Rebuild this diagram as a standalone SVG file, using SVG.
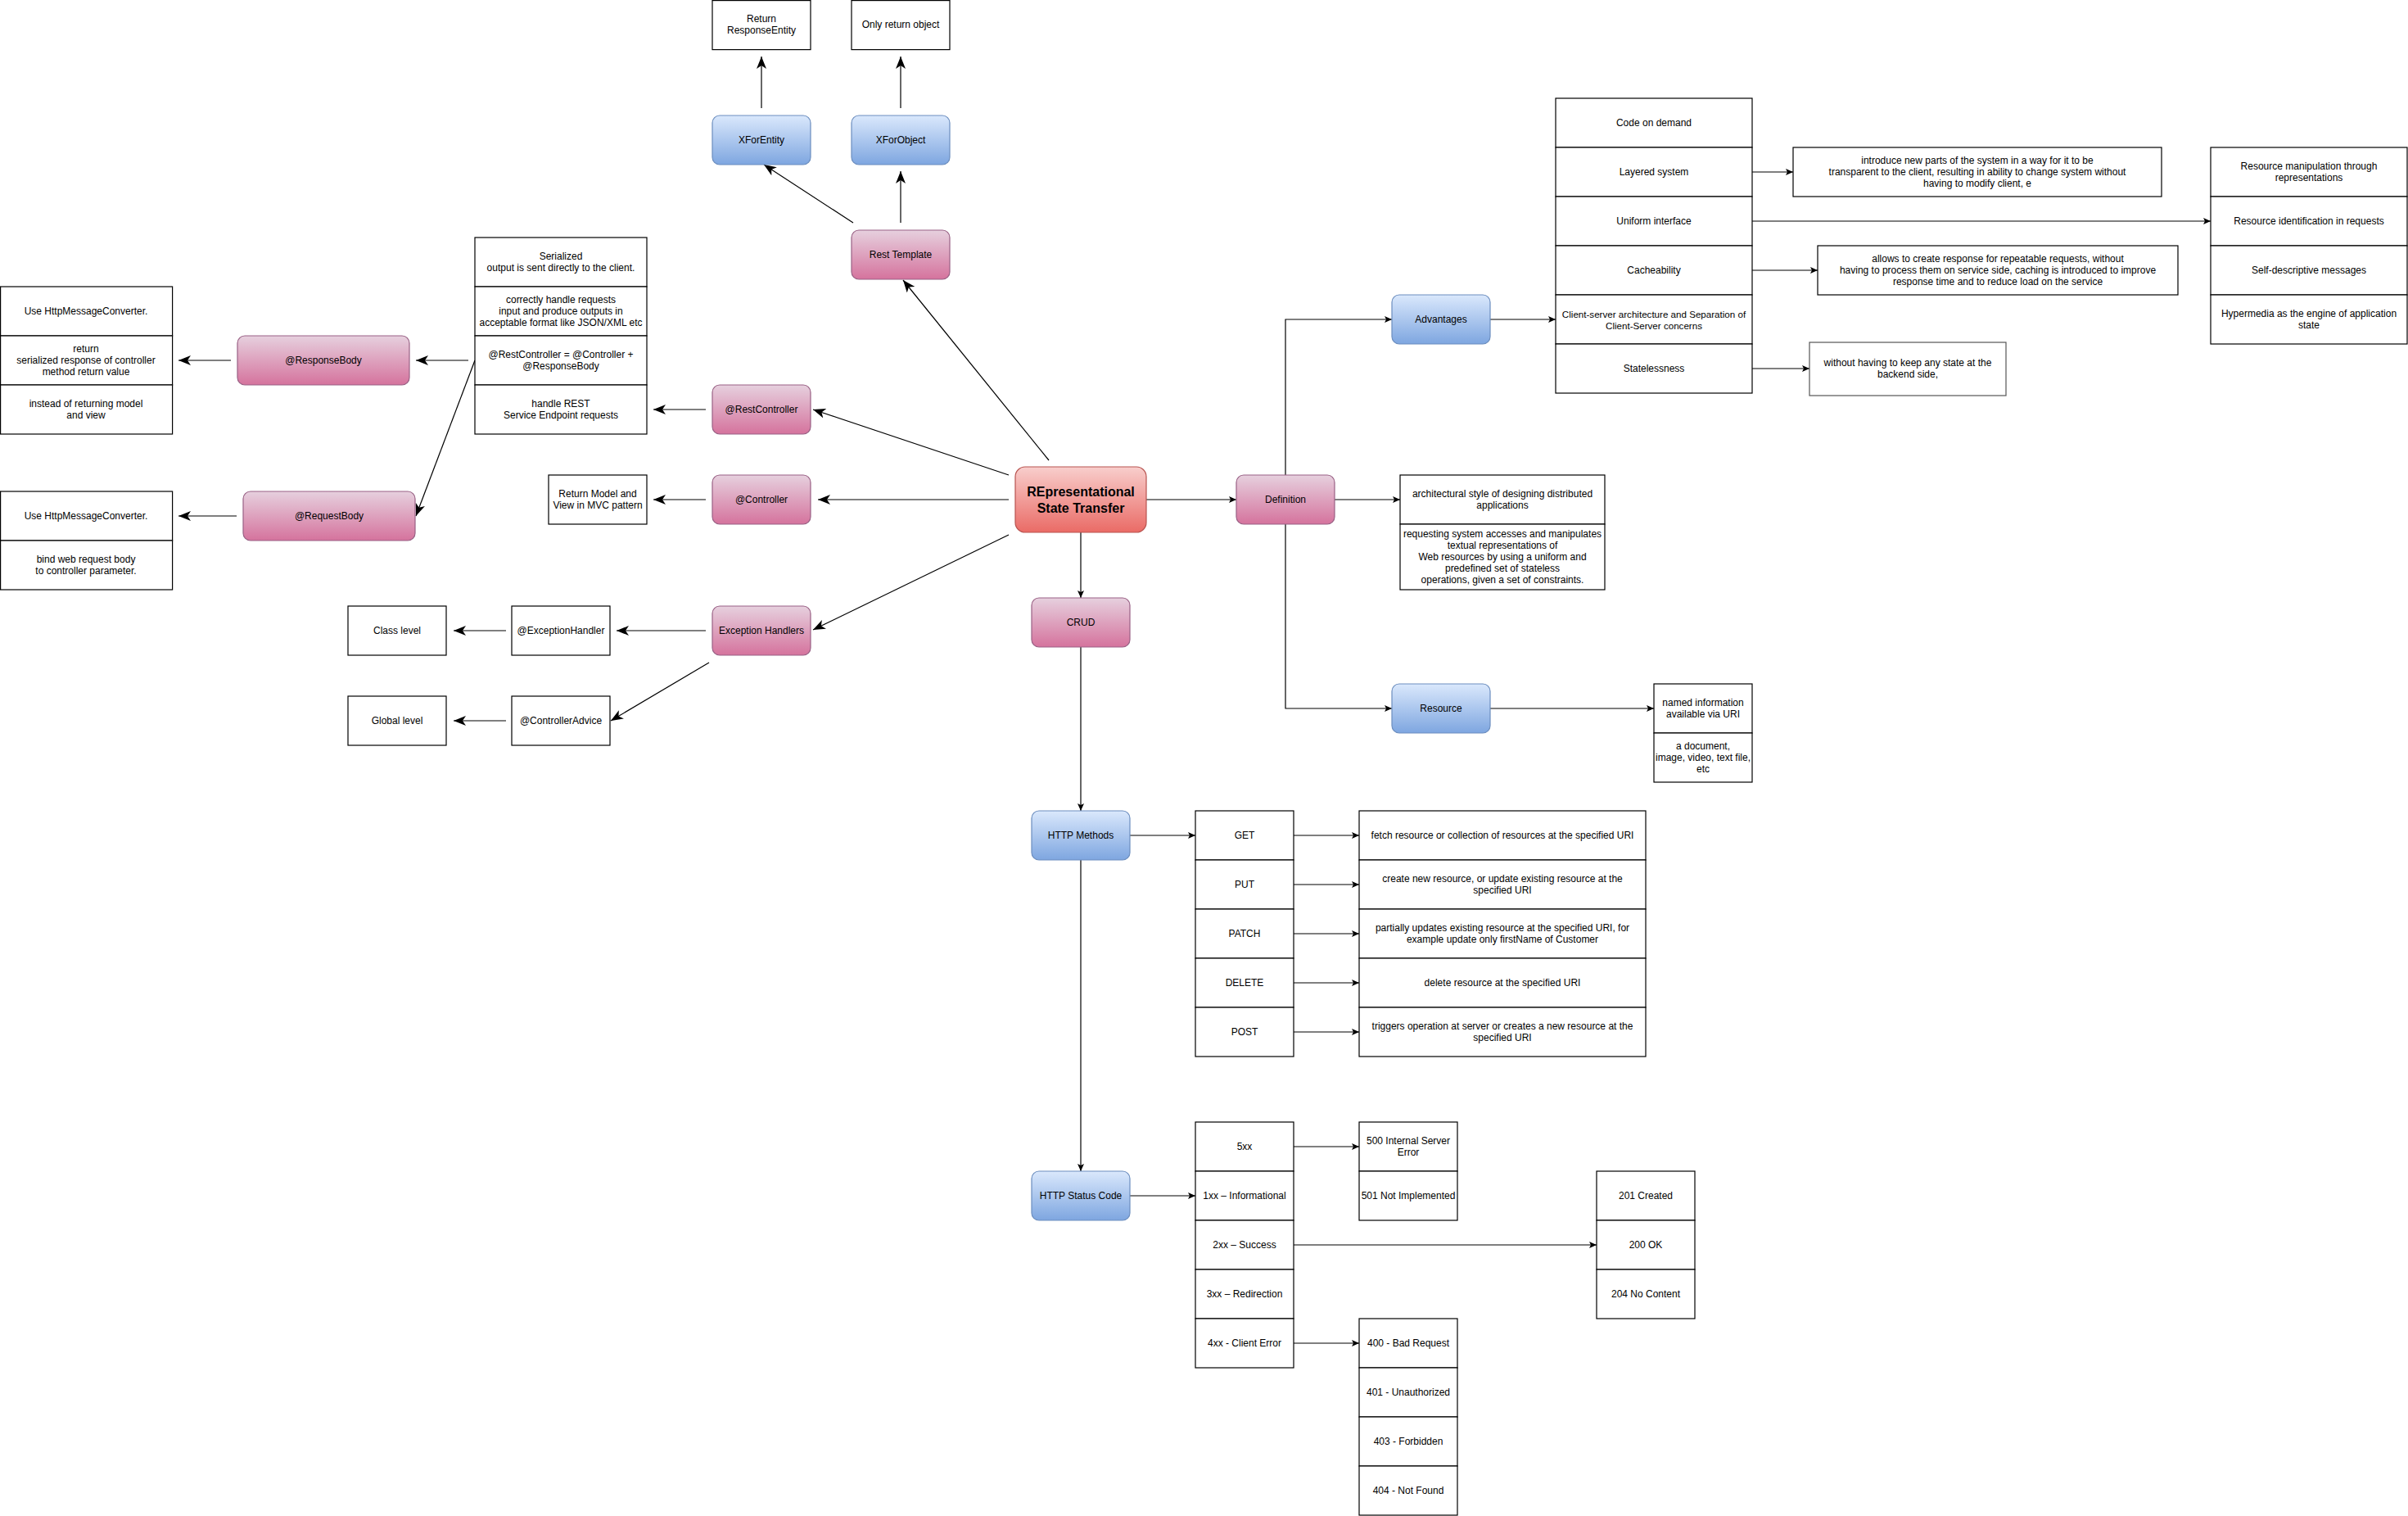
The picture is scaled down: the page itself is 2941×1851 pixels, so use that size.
<svg xmlns="http://www.w3.org/2000/svg" width="2941" height="1851" viewBox="0 0 2941 1851">
<defs>
<linearGradient id="gp" x1="0" y1="0" x2="0" y2="1"><stop offset="0" stop-color="#e6d0de"/><stop offset="1" stop-color="#d5739d"/></linearGradient>
<linearGradient id="gb" x1="0" y1="0" x2="0" y2="1"><stop offset="0" stop-color="#dae8fc"/><stop offset="1" stop-color="#7ea6e0"/></linearGradient>
<linearGradient id="gr" x1="0" y1="0" x2="0" y2="1"><stop offset="0" stop-color="#f8cecc"/><stop offset="1" stop-color="#ea6b66"/></linearGradient>
<marker id="big" markerUnits="userSpaceOnUse" markerWidth="16" markerHeight="12" refX="15" refY="6" orient="auto"><path d="M0,0 L15,6 L0,12 L4,6 z" fill="#000"/></marker>
<marker id="sm" markerUnits="userSpaceOnUse" markerWidth="10" markerHeight="8" refX="9" refY="4" orient="auto"><path d="M0,0 L9,4 L0,8 L2,4 z" fill="#000"/></marker>
</defs>
<style>
.b{fill:#fff;stroke:#000;stroke-width:1.2}
.p{fill:url(#gp);stroke:#996185;stroke-width:1.2}
.u{fill:url(#gb);stroke:#6c8ebf;stroke-width:1.2}
.r{fill:url(#gr);stroke:#b85450;stroke-width:1.2}
text{font-family:"Liberation Sans",Arial,sans-serif;font-size:12px;text-anchor:middle;dominant-baseline:central;fill:#000}
.L{fill:none;stroke:#000;stroke-width:1.2;marker-end:url(#big)}
.S{fill:none;stroke:#000;stroke-width:1.2;marker-end:url(#sm)}
</style>
<rect width="2941" height="1851" fill="#fff"/>

<g id="connectors">
<path class="L" d="M930,132 V69"/>
<path class="L" d="M1100,132 V69"/>
<path class="L" d="M1042,272 L933,201"/>
<path class="L" d="M1100,272 V209"/>
<path class="L" d="M1281,562 L1103,342"/>
<path class="L" d="M1232,580 L993,500"/>
<path class="L" d="M1232,610 H999"/>
<path class="L" d="M1232,653 L993,769"/>
<path class="L" d="M862,500 H798"/>
<path class="L" d="M862,610 H798"/>
<path class="L" d="M572,440 H508"/>
<path class="L" d="M282,440 H218"/>
<path class="L" d="M580,440 L508,630"/>
<path class="L" d="M289,630 H218"/>
<path class="L" d="M862,770 H753"/>
<path class="L" d="M618,770 H554"/>
<path class="L" d="M866,809 L746,880"/>
<path class="L" d="M618,880 H554"/>
<path class="S" d="M1320,650 V730"/>
<path class="S" d="M1400,610 H1510"/>
<path class="S" d="M1630,610 H1710"/>
<path class="S" d="M1570,580 V390 H1700"/>
<path class="S" d="M1570,640 V865 H1700"/>
<path class="S" d="M1820,390 H1900"/>
<path class="S" d="M1820,865 H2020"/>
<path class="S" d="M2140,210 H2190"/>
<path class="S" d="M2140,270 H2700"/>
<path class="S" d="M2140,330 H2220"/>
<path class="S" d="M2140,450 H2210"/>
<path class="S" d="M1320,790 V990"/>
<path class="S" d="M1320,1050 V1430"/>
<path class="S" d="M1380,1020 H1460"/>
<path class="S" d="M1580,1020 H1660"/>
<path class="S" d="M1580,1080 H1660"/>
<path class="S" d="M1580,1140 H1660"/>
<path class="S" d="M1580,1200 H1660"/>
<path class="S" d="M1580,1260 H1660"/>
<path class="S" d="M1380,1460 H1460"/>
<path class="S" d="M1580,1400 H1660"/>
<path class="S" d="M1580,1520 H1950"/>
<path class="S" d="M1580,1640 H1660"/>
</g>

<g id="returnResponseEntity"><rect class="b" x="870" y="0.6" width="120" height="60"/><text x="930" y="30"><tspan x="930" dy="-7">Return</tspan><tspan x="930" dy="14">ResponseEntity</tspan></text></g>
<g id="onlyReturnObject"><rect class="b" x="1040" y="0.6" width="120" height="60"/><text x="1100" y="30">Only return object</text></g>
<g id="xForEntity"><rect class="u" x="870" y="141" width="120" height="60" rx="9"/><text x="930" y="171">XForEntity</text></g>
<g id="xForObject"><rect class="u" x="1040" y="141" width="120" height="60" rx="9"/><text x="1100" y="171">XForObject</text></g>
<g id="restTemplate"><rect class="p" x="1040" y="281" width="120" height="60" rx="9"/><text x="1100" y="311">Rest Template</text></g>

<g id="restTable">
<rect class="b" x="580" y="290" width="210" height="60"/><rect class="b" x="580" y="350" width="210" height="60"/><rect class="b" x="580" y="410" width="210" height="60"/><rect class="b" x="580" y="470" width="210" height="60"/>
<text x="685" y="320"><tspan x="685" dy="-7">Serialized</tspan><tspan x="685" dy="14">output is sent directly to the client.</tspan></text>
<text x="685" y="380"><tspan x="685" dy="-14">correctly handle requests</tspan><tspan x="685" dy="14">input and produce outputs in</tspan><tspan x="685" dy="14">acceptable format like JSON/XML etc</tspan></text>
<text x="685" y="440"><tspan x="685" dy="-7">@RestController = @Controller +</tspan><tspan x="685" dy="14">@ResponseBody</tspan></text>
<text x="685" y="500"><tspan x="685" dy="-7">handle REST</tspan><tspan x="685" dy="14">Service Endpoint requests</tspan></text>
</g>
<g id="responseBodyTable">
<rect class="b" x="0.6" y="350" width="210" height="60"/><rect class="b" x="0.6" y="410" width="210" height="60"/><rect class="b" x="0.6" y="470" width="210" height="60"/>
<text x="105" y="380">Use HttpMessageConverter.</text>
<text x="105" y="440"><tspan x="105" dy="-14">return</tspan><tspan x="105" dy="14">serialized response of controller</tspan><tspan x="105" dy="14">method return value</tspan></text>
<text x="105" y="500"><tspan x="105" dy="-7">instead of returning model</tspan><tspan x="105" dy="14">and view</tspan></text>
</g>
<g id="responseBody"><rect class="p" x="290" y="410" width="210" height="60" rx="9"/><text x="395" y="440">@ResponseBody</text></g>
<g id="restController"><rect class="p" x="870" y="470" width="120" height="60" rx="9"/><text x="930" y="500">@RestController</text></g>
<g id="requestBody"><rect class="p" x="297" y="600" width="210" height="60" rx="9"/><text x="402" y="630">@RequestBody</text></g>
<g id="requestBodyTable">
<rect class="b" x="0.6" y="600" width="210" height="60"/><rect class="b" x="0.6" y="660" width="210" height="60"/>
<text x="105" y="630">Use HttpMessageConverter.</text>
<text x="105" y="690"><tspan x="105" dy="-7">bind web request body</tspan><tspan x="105" dy="14">to controller parameter.</tspan></text>
</g>
<g id="returnModel"><rect class="b" x="670" y="580" width="120" height="60"/><text x="730" y="610"><tspan x="730" dy="-7">Return Model and</tspan><tspan x="730" dy="14">View in MVC pattern</tspan></text></g>
<g id="controller"><rect class="p" x="870" y="580" width="120" height="60" rx="9"/><text x="930" y="610">@Controller</text></g>
<g id="exceptionHandlers"><rect class="p" x="870" y="740" width="120" height="60" rx="9"/><text x="930" y="770">Exception Handlers</text></g>
<g id="exceptionHandler"><rect class="b" x="625" y="740" width="120" height="60"/><text x="685" y="770">@ExceptionHandler</text></g>
<g id="classLevel"><rect class="b" x="425" y="740" width="120" height="60"/><text x="485" y="770">Class level</text></g>
<g id="controllerAdvice"><rect class="b" x="625" y="850" width="120" height="60"/><text x="685" y="880">@ControllerAdvice</text></g>
<g id="globalLevel"><rect class="b" x="425" y="850" width="120" height="60"/><text x="485" y="880">Global level</text></g>

<g id="rest"><rect class="r" x="1240" y="570" width="160" height="80" rx="12"/><text x="1320" y="610" style="font-weight:bold;font-size:16px"><tspan x="1320" dy="-10">REpresentational</tspan><tspan x="1320" dy="20">State Transfer</tspan></text></g>
<g id="crud"><rect class="p" x="1260" y="730" width="120" height="60" rx="9"/><text x="1320" y="760">CRUD</text></g>
<g id="definition"><rect class="p" x="1510" y="580" width="120" height="60" rx="9"/><text x="1570" y="610">Definition</text></g>
<g id="defTable">
<rect class="b" x="1710" y="580" width="250" height="60"/><rect class="b" x="1710" y="640" width="250" height="80"/>
<text x="1835" y="610"><tspan x="1835" dy="-7">architectural style of designing distributed</tspan><tspan x="1835" dy="14">applications</tspan></text>
<text x="1835" y="680"><tspan x="1835" dy="-28">requesting system accesses and manipulates</tspan><tspan x="1835" dy="14">textual representations of</tspan><tspan x="1835" dy="14">Web resources by using a uniform and</tspan><tspan x="1835" dy="14">predefined set of stateless</tspan><tspan x="1835" dy="14">operations, given a set of constraints.</tspan></text>
</g>
<g id="advantages"><rect class="u" x="1700" y="360" width="120" height="60" rx="9"/><text x="1760" y="390">Advantages</text></g>
<g id="advTable">
<rect class="b" x="1900" y="120" width="240" height="60"/><rect class="b" x="1900" y="180" width="240" height="60"/><rect class="b" x="1900" y="240" width="240" height="60"/><rect class="b" x="1900" y="300" width="240" height="60"/><rect class="b" x="1900" y="360" width="240" height="60"/><rect class="b" x="1900" y="420" width="240" height="60"/>
<text x="2020" y="150">Code on demand</text>
<text x="2020" y="210">Layered system</text>
<text x="2020" y="270">Uniform interface</text>
<text x="2020" y="330">Cacheability</text>
<text x="2020" y="390" style="font-size:11.6px"><tspan x="2020" dy="-7">Client-server architecture and Separation of</tspan><tspan x="2020" dy="14">Client-Server concerns</tspan></text>
<text x="2020" y="450">Statelessness</text>
</g>
<g id="layeredDesc"><rect class="b" x="2190" y="180" width="450" height="60"/><text x="2415" y="210"><tspan x="2415" dy="-14">introduce new parts of the system in a way for it to be</tspan><tspan x="2415" dy="14">transparent to the client, resulting in ability to change system without</tspan><tspan x="2415" dy="14">having to modify client, e</tspan></text></g>
<g id="uniformTable">
<rect class="b" x="2700" y="180" width="240" height="60"/><rect class="b" x="2700" y="240" width="240" height="60"/><rect class="b" x="2700" y="300" width="240" height="60"/><rect class="b" x="2700" y="360" width="240" height="60"/>
<text x="2820" y="210"><tspan x="2820" dy="-7">Resource manipulation through</tspan><tspan x="2820" dy="14">representations</tspan></text>
<text x="2820" y="270">Resource identification in requests</text>
<text x="2820" y="330">Self-descriptive messages</text>
<text x="2820" y="390"><tspan x="2820" dy="-7">Hypermedia as the engine of application</tspan><tspan x="2820" dy="14">state</tspan></text>
</g>
<g id="cacheDesc"><rect class="b" x="2220" y="300" width="440" height="60"/><text x="2440" y="330"><tspan x="2440" dy="-14">allows to create response for repeatable requests, without</tspan><tspan x="2440" dy="14">having to process them on service side, caching is introduced to improve</tspan><tspan x="2440" dy="14">response time and to reduce load on the service</tspan></text></g>
<g id="statelessDesc"><rect class="b" x="2210" y="418" width="240" height="65" style="stroke:#555"/><text x="2330" y="450"><tspan x="2330" dy="-7">without having to keep any state at the</tspan><tspan x="2330" dy="14">backend side,</tspan></text></g>
<g id="resource"><rect class="u" x="1700" y="835" width="120" height="60" rx="9"/><text x="1760" y="865">Resource</text></g>
<g id="resourceTable">
<rect class="b" x="2020" y="835" width="120" height="60"/><rect class="b" x="2020" y="895" width="120" height="60"/>
<text x="2080" y="865"><tspan x="2080" dy="-7">named information</tspan><tspan x="2080" dy="14">available via URI</tspan></text>
<text x="2080" y="925"><tspan x="2080" dy="-14">a document,</tspan><tspan x="2080" dy="14">image, video, text file,</tspan><tspan x="2080" dy="14">etc</tspan></text>
</g>

<g id="httpMethods"><rect class="u" x="1260" y="990" width="120" height="60" rx="9"/><text x="1320" y="1020">HTTP Methods</text></g>
<g id="methodsTable">
<rect class="b" x="1460" y="990" width="120" height="60"/><rect class="b" x="1460" y="1050" width="120" height="60"/><rect class="b" x="1460" y="1110" width="120" height="60"/><rect class="b" x="1460" y="1170" width="120" height="60"/><rect class="b" x="1460" y="1230" width="120" height="60"/>
<text x="1520" y="1020">GET</text><text x="1520" y="1080">PUT</text><text x="1520" y="1140">PATCH</text><text x="1520" y="1200">DELETE</text><text x="1520" y="1260">POST</text>
</g>
<g id="methodsDesc">
<rect class="b" x="1660" y="990" width="350" height="60"/><rect class="b" x="1660" y="1050" width="350" height="60"/><rect class="b" x="1660" y="1110" width="350" height="60"/><rect class="b" x="1660" y="1170" width="350" height="60"/><rect class="b" x="1660" y="1230" width="350" height="60"/>
<text x="1835" y="1020">fetch resource or collection of resources at the specified URI</text>
<text x="1835" y="1080"><tspan x="1835" dy="-7">create new resource, or update existing resource at the</tspan><tspan x="1835" dy="14">specified URI</tspan></text>
<text x="1835" y="1140"><tspan x="1835" dy="-7">partially updates existing resource at the specified URI, for</tspan><tspan x="1835" dy="14">example update only firstName of Customer</tspan></text>
<text x="1835" y="1200">delete resource at the specified URI</text>
<text x="1835" y="1260"><tspan x="1835" dy="-7">triggers operation at server or creates a new resource at the</tspan><tspan x="1835" dy="14">specified URI</tspan></text>
</g>
<g id="httpStatus"><rect class="u" x="1260" y="1430" width="120" height="60" rx="9"/><text x="1320" y="1460">HTTP Status Code</text></g>
<g id="statusTable">
<rect class="b" x="1460" y="1370" width="120" height="60"/><rect class="b" x="1460" y="1430" width="120" height="60"/><rect class="b" x="1460" y="1490" width="120" height="60"/><rect class="b" x="1460" y="1550" width="120" height="60"/><rect class="b" x="1460" y="1610" width="120" height="60"/>
<text x="1520" y="1400">5xx</text><text x="1520" y="1460">1xx – Informational</text><text x="1520" y="1520">2xx – Success</text><text x="1520" y="1580">3xx – Redirection</text><text x="1520" y="1640">4xx - Client Error</text>
</g>
<g id="s5xx">
<rect class="b" x="1660" y="1370" width="120" height="60"/><rect class="b" x="1660" y="1430" width="120" height="60"/>
<text x="1720" y="1400"><tspan x="1720" dy="-7">500 Internal Server</tspan><tspan x="1720" dy="14">Error</tspan></text>
<text x="1720" y="1460">501 Not Implemented</text>
</g>
<g id="s2xx">
<rect class="b" x="1950" y="1430" width="120" height="60"/><rect class="b" x="1950" y="1490" width="120" height="60"/><rect class="b" x="1950" y="1550" width="120" height="60"/>
<text x="2010" y="1460">201 Created</text><text x="2010" y="1520">200 OK</text><text x="2010" y="1580">204 No Content</text>
</g>
<g id="s4xx">
<rect class="b" x="1660" y="1610" width="120" height="60"/><rect class="b" x="1660" y="1670" width="120" height="60"/><rect class="b" x="1660" y="1730" width="120" height="60"/><rect class="b" x="1660" y="1790" width="120" height="60"/>
<text x="1720" y="1640">400 - Bad Request</text><text x="1720" y="1700">401 - Unauthorized</text><text x="1720" y="1760">403 - Forbidden</text><text x="1720" y="1820">404 - Not Found</text>
</g>
</svg>
